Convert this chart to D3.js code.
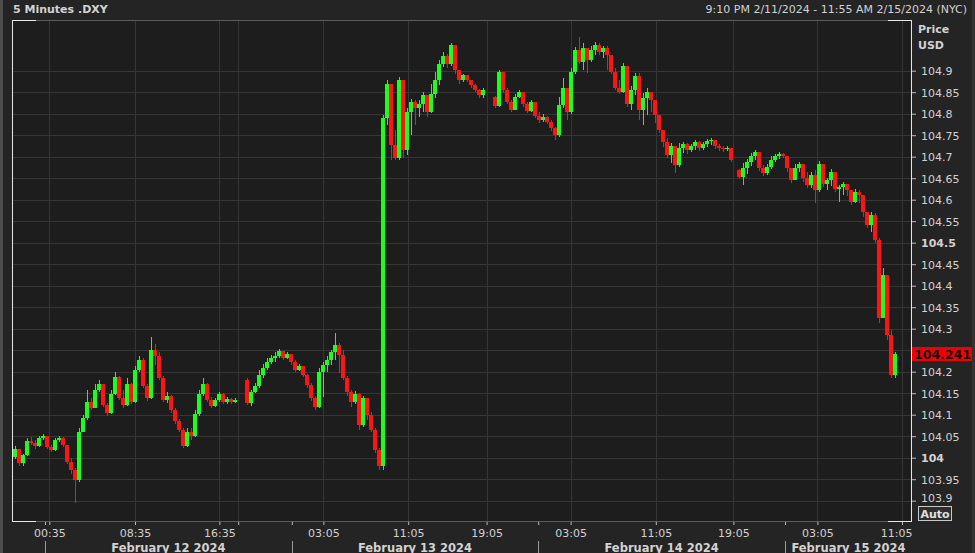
<!DOCTYPE html>
<html><head><meta charset="utf-8">
<script src="https://cdn.jsdelivr.net/npm/d3@7"></script>
<style>
html,body{margin:0;padding:0;background:#242424;overflow:hidden;}
svg{display:block;}
text{font-family:"DejaVu Sans",Verdana,sans-serif;}
</style></head><body>
<svg id="chart" width="975" height="553"></svg>
<script>
// ---- data: 5-minute .DXY, aggregated into slots (null = no trading) ----
const closes = [
104.020,103.988,104.006,104.039,104.034,104.027,104.046,104.050,104.025,104.018,
104.041,104.046,104.030,103.990,103.971,103.948,104.060,104.093,104.130,104.116,
104.157,104.171,104.123,104.104,104.148,104.188,104.139,104.123,104.171,104.130,
104.204,104.227,104.167,104.139,104.250,104.237,104.185,104.134,104.144,104.111,
104.085,104.064,104.027,104.060,104.050,104.102,104.148,104.171,104.134,104.120,
104.134,104.148,104.130,104.137,104.130,104.134,null,null,104.127,104.153,
104.167,104.192,104.209,104.223,104.232,104.237,104.248,104.232,104.241,104.223,
104.204,104.213,104.192,104.169,104.139,104.118,104.199,104.216,104.227,104.246,
104.262,104.239,104.185,104.153,104.130,104.148,104.076,104.139,104.100,104.064,
104.018,103.981,104.790,104.869,104.727,104.697,104.878,104.716,104.804,104.827,
104.813,104.823,104.844,104.804,104.846,104.878,104.916,104.934,104.916,104.960,
104.902,104.878,104.890,104.878,104.867,104.855,104.844,104.855,null,null,
104.818,104.897,104.855,104.827,104.809,104.839,104.850,104.823,104.806,104.827,
104.795,104.785,104.792,104.781,104.767,104.750,104.820,104.860,104.804,104.897,
104.948,104.920,104.953,104.925,104.948,104.960,104.943,104.953,104.937,104.897,
104.860,104.850,104.911,104.823,104.855,104.888,104.809,104.836,104.850,104.832,
104.797,104.762,104.734,104.704,104.725,104.681,104.720,104.730,104.716,104.725,
104.734,104.720,104.730,104.737,104.739,104.725,104.720,104.718,104.720,104.692,
null,104.653,104.674,104.688,104.702,104.711,104.674,104.662,104.676,104.692,
104.702,104.706,104.702,104.674,104.646,104.674,104.683,104.650,104.634,104.657,
104.623,104.683,104.637,104.646,104.664,104.625,104.630,104.637,104.623,104.595,
104.618,104.611,104.571,104.541,104.564,104.506,104.325,104.425,104.285,104.192,104.241
];
const highs = [
104.027,104.020,104.009,104.046,104.048,104.041,104.050,104.055,104.050,104.030,
104.046,104.050,104.048,104.030,104.000,103.976,104.069,104.100,104.157,104.139,
104.171,104.181,104.171,104.127,104.157,104.199,104.190,104.157,104.185,104.174,
104.213,104.237,104.232,104.171,104.281,104.264,104.246,104.190,104.153,104.146,
104.116,104.090,104.069,104.069,104.069,104.111,104.157,104.185,104.174,104.141,
104.139,104.153,104.150,104.141,104.139,104.139,null,null,104.185,104.157,
104.174,104.204,104.218,104.232,104.239,104.246,104.253,104.246,104.246,104.241,
104.227,104.218,104.213,104.195,104.174,104.144,104.209,104.223,104.237,104.250,
104.290,104.267,104.250,104.190,104.157,104.155,104.150,104.144,104.139,104.106,
104.069,104.023,104.797,104.878,104.864,104.762,104.885,104.878,104.813,104.834,
104.832,104.832,104.850,104.844,104.869,104.897,104.925,104.943,104.939,104.964,
104.957,104.902,104.892,104.888,104.878,104.869,104.857,104.860,null,null,
104.841,104.902,104.892,104.860,104.832,104.846,104.855,104.850,104.827,104.832,
104.827,104.804,104.799,104.795,104.785,104.769,104.839,104.883,104.860,104.906,
104.955,104.978,104.964,104.953,104.957,104.967,104.964,104.957,104.957,104.930,
104.906,104.878,104.918,104.906,104.864,104.895,104.895,104.848,104.860,104.844,
104.823,104.790,104.762,104.744,104.732,104.723,104.732,104.734,104.732,104.730,
104.739,104.737,104.734,104.741,104.744,104.739,104.730,104.725,104.725,104.720,
null,104.671,104.686,104.695,104.709,104.716,104.706,104.681,104.683,104.702,
104.706,104.711,104.709,104.702,104.674,104.683,104.688,104.683,104.664,104.664,
104.669,104.690,104.681,104.650,104.671,104.664,104.634,104.641,104.637,104.623,
104.625,104.623,104.611,104.571,104.571,104.569,104.511,104.441,104.418,104.297,104.246
];
const lows = [
103.997,103.981,103.981,104.004,104.030,104.020,104.025,104.041,104.020,104.013,
104.016,104.036,104.025,103.985,103.962,103.895,103.943,104.060,104.088,104.111,
104.116,104.153,104.118,104.097,104.102,104.146,104.134,104.116,104.120,104.125,
104.127,104.199,104.162,104.132,104.137,104.216,104.181,104.130,104.127,104.104,
104.078,104.060,104.023,104.025,104.041,104.048,104.097,104.144,104.130,104.116,
104.118,104.130,104.125,104.125,104.125,104.127,null,null,104.123,104.120,
104.150,104.162,104.185,104.204,104.218,104.223,104.232,104.227,104.230,104.216,
104.199,104.202,104.188,104.162,104.132,104.111,104.116,104.141,104.199,104.216,
104.227,104.197,104.181,104.144,104.118,104.125,104.064,104.071,104.088,104.060,
104.011,103.971,103.971,104.774,104.692,104.692,104.692,104.697,104.704,104.750,
104.774,104.792,104.804,104.792,104.802,104.836,104.867,104.909,104.906,104.911,
104.892,104.869,104.874,104.874,104.860,104.850,104.836,104.836,null,null,
104.813,104.816,104.848,104.823,104.804,104.809,104.836,104.816,104.802,104.804,
104.790,104.778,104.781,104.776,104.760,104.739,104.746,104.813,104.785,104.799,
104.892,104.916,104.902,104.895,104.920,104.937,104.937,104.930,104.902,104.892,
104.855,104.846,104.848,104.816,104.809,104.844,104.785,104.774,104.797,104.804,
104.778,104.755,104.723,104.697,104.686,104.662,104.676,104.709,104.706,104.711,
104.716,104.713,104.716,104.723,104.727,104.718,104.713,104.711,104.713,104.688,
null,104.648,104.634,104.660,104.678,104.692,104.667,104.655,104.657,104.671,
104.688,104.695,104.697,104.664,104.639,104.646,104.664,104.641,104.627,104.627,
104.592,104.618,104.630,104.623,104.632,104.618,104.595,104.611,104.609,104.588,
104.592,104.592,104.560,104.534,104.525,104.499,104.313,104.325,104.274,104.185,104.185
];
// opening price at the start of each trading session [slot, open]
const sessionOpens = [[0,104.002],[58,104.181],[120,104.839],[181,104.669]];

const priceTicks = [103.9,103.95,104,104.05,104.1,104.15,104.2,104.25,104.3,104.35,104.4,
  104.45,104.5,104.55,104.6,104.65,104.7,104.75,104.8,104.85,104.9];
const boldTicks = [104, 104.5];
const timeTickSlots = [9.08,30.5,51.6,77.6,98.8,118.4,139.4,160.7,180.1,201.1,222.25];
const timeTickLabels = ["00:35","08:35","16:35","03:05","11:05","19:05","03:05","11:05","19:05","03:05","11:05"];
const sessionBreakSlots = [56.3];
const dayStartSlots = [8.0,69.7,131.3,193.0];
const dayLabels = ["February 12 2024","February 13 2024","February 14 2024","February 15 2024"];
const lastPrice = 104.241;
const titleText = "5 Minutes .DXY";
const rangeText = "9:10 PM 2/11/2024 - 11:55 AM 2/15/2024 (NYC)";

// ---- layout ----
const W = 975, H = 553;
const P = {left:12, right:912, top:20, bottom:521};
const UP = "#1cff1c", DOWN = "#ff1414";
const TXT = "#d2d2d2";

const svg = d3.select("#chart");
const x = d3.scaleLinear().domain([0, 224.5]).range([13, 911]);
const y = d3.scaleLinear().domain([103.9, 104.9]).range([500.7, 70.7]);

svg.append("rect").attr("width", W).attr("height", H).attr("fill", "#242424");
svg.append("rect").attr("x", 0).attr("y", 0).attr("width", 3).attr("height", H).attr("fill", "#4e4e4e");
svg.append("rect").attr("x", 972).attr("y", 0).attr("width", 3).attr("height", H).attr("fill", "#333");
svg.append("rect").attr("x", P.left).attr("y", P.top).attr("width", P.right - P.left)
  .attr("height", P.bottom - P.top).attr("fill", "#1d1d1d");

// grid
const grid = svg.append("g").attr("stroke", "#363636").attr("stroke-width", 1).attr("shape-rendering", "crispEdges");
grid.selectAll(".h").data(priceTicks).join("line")
  .attr("x1", P.left).attr("x2", P.right)
  .attr("y1", d => Math.round(y(d)) + 0.5).attr("y2", d => Math.round(y(d)) + 0.5);
grid.selectAll(".v").data(timeTickSlots.concat(sessionBreakSlots)).join("line")
  .attr("y1", P.top).attr("y2", P.bottom)
  .attr("x1", d => Math.round(x(d)) + 0.5).attr("x2", d => Math.round(x(d)) + 0.5);

// candles
const openMap = new Map(sessionOpens);
const candles = [];
closes.forEach((c, i) => {
  if (c == null) return;
  const o = openMap.has(i) ? openMap.get(i) : closes[i - 1];
  candles.push({i, o, c, h: Math.max(highs[i], o, c), l: Math.min(lows[i], o, c)});
});
const cg = svg.append("g").attr("shape-rendering", "crispEdges");
cg.selectAll("line").data(candles).join("line")
  .attr("x1", d => x(d.i) + 2).attr("x2", d => x(d.i) + 2)
  .attr("y1", d => y(d.h)).attr("y2", d => y(d.l))
  .attr("stroke", d => d.c >= d.o ? UP : DOWN).attr("stroke-width", 1);
cg.selectAll("rect").data(candles).join("rect")
  .attr("x", d => x(d.i)).attr("width", d => x(d.i + 1) - x(d.i))
  .attr("y", d => y(Math.max(d.o, d.c)))
  .attr("height", d => Math.max(1, Math.abs(y(d.o) - y(d.c))))
  .attr("fill", d => d.c >= d.o ? UP : DOWN);

// frame
const fr = svg.append("g").attr("shape-rendering", "crispEdges").attr("fill", "none");
fr.append("rect").attr("x", P.left + 0.5).attr("y", P.top + 0.5)
  .attr("width", P.right - P.left - 1).attr("height", P.bottom - P.top)
  .attr("stroke", "#5c5c5c");
const white = "#e6e6e6";
[[P.left+0.5,P.top+0.5,P.left+0.5,P.bottom+0.5],[P.right-0.5,P.top+0.5,P.right-0.5,P.bottom+0.5],
 [P.left,P.top+0.5,P.left+24,P.top+0.5],[P.right-24,P.top+0.5,P.right,P.top+0.5],
 [P.left,P.bottom+0.5,P.left+24,P.bottom+0.5],[P.right-24,P.bottom+0.5,P.right,P.bottom+0.5]]
 .forEach(s => fr.append("line").attr("x1", s[0]).attr("y1", s[1]).attr("x2", s[2]).attr("y2", s[3]).attr("stroke", white));

// y axis
const yAxis = d3.axisRight(y).tickValues(priceTicks).tickSize(4).tickPadding(5)
  .tickFormat(d => String(+d.toFixed(2)));
const yg = svg.append("g").attr("transform", `translate(${P.right},0)`).call(yAxis);
yg.select(".domain").remove();
yg.selectAll(".tick line").attr("stroke", "#bdbdbd");
yg.selectAll(".tick text").attr("fill", TXT).attr("font-size", 11)
  .attr("font-family", '"DejaVu Sans",Verdana,sans-serif')
  .attr("font-weight", d => boldTicks.some(b => Math.abs(b - d) < 1e-9) ? "bold" : "normal")
  .attr("dy", d => (y(d) > 497 ? -3.5 : 0) + 4 + "px");

svg.append("text").attr("x", 918).attr("y", 33).attr("fill", TXT)
  .attr("font-size", 11).attr("font-weight", "bold").text("Price");
svg.append("text").attr("x", 918).attr("y", 49).attr("fill", TXT)
  .attr("font-size", 11).attr("font-weight", "bold").text("USD");

// last price tag
const ly = y(lastPrice);
svg.append("rect").attr("x", 912).attr("y", Math.round(ly) - 7).attr("width", 60).attr("height", 14).attr("fill", "#f00000");
svg.append("text").attr("x", 914).attr("y", Math.round(ly) + 5).attr("fill", "#111")
  .attr("font-size", 12.5).attr("font-weight", "bold").text(lastPrice.toFixed(3));

// Auto button
svg.append("rect").attr("x", 918.5).attr("y", 506.5).attr("width", 33).attr("height", 14)
  .attr("fill", "#2e2e2e").attr("stroke", "#c8c8c8").attr("shape-rendering", "crispEdges");
svg.append("text").attr("x", 935).attr("y", 518).attr("text-anchor", "middle").attr("fill", "#e0e0e0")
  .attr("font-size", 11).attr("font-weight", "bold").text("Auto");

// x axis
const xAxis = d3.axisBottom(x).tickValues(timeTickSlots).tickSize(3).tickPadding(4)
  .tickFormat((d, i) => timeTickLabels[i]);
const xg = svg.append("g").attr("transform", `translate(0,${P.bottom + 1})`).call(xAxis);
xg.select(".domain").remove();
xg.selectAll(".tick line").attr("stroke", "#bdbdbd");
xg.selectAll(".tick text").attr("fill", TXT).attr("font-size", 11)
  .attr("font-family", '"DejaVu Sans",Verdana,sans-serif');
xg.selectAll(".tick text").each(function(d) {
  const w = this.getComputedTextLength();
  const cx = x(d);
  if (cx + w / 2 > P.right) d3.select(this).attr("x", P.right - w / 2 - cx);
});
const xMinor = d3.axisBottom(x).tickValues(dayStartSlots.concat(sessionBreakSlots)).tickSize(3).tickFormat("");
const xm = svg.append("g").attr("transform", `translate(0,${P.bottom + 1})`).call(xMinor);
xm.select(".domain").remove();
xm.selectAll(".tick line").attr("stroke", "#bdbdbd");

// day separators and labels
const sep = svg.append("g").attr("shape-rendering", "crispEdges");
dayStartSlots.forEach((s, i) => {
  const xs = Math.round(x(s)) + 0.5;
  sep.append("line").attr("x1", xs).attr("x2", xs).attr("y1", 541).attr("y2", 553).attr("stroke", "#9a9a9a");
  const xe = i + 1 < dayStartSlots.length ? x(dayStartSlots[i + 1]) : P.right;
  svg.append("text").attr("x", (x(s) + xe) / 2).attr("y", 552).attr("text-anchor", "middle")
    .attr("fill", TXT).attr("font-size", 11.5).attr("font-weight", "bold").text(dayLabels[i]);
});

// header
svg.append("text").attr("x", 13).attr("y", 13).attr("fill", TXT).attr("font-size", 11)
  .attr("font-weight", "bold").text(titleText);
svg.append("text").attr("x", 967).attr("y", 13).attr("text-anchor", "end").attr("fill", TXT)
  .attr("font-size", 11).text(rangeText);
</script>
</body></html>
